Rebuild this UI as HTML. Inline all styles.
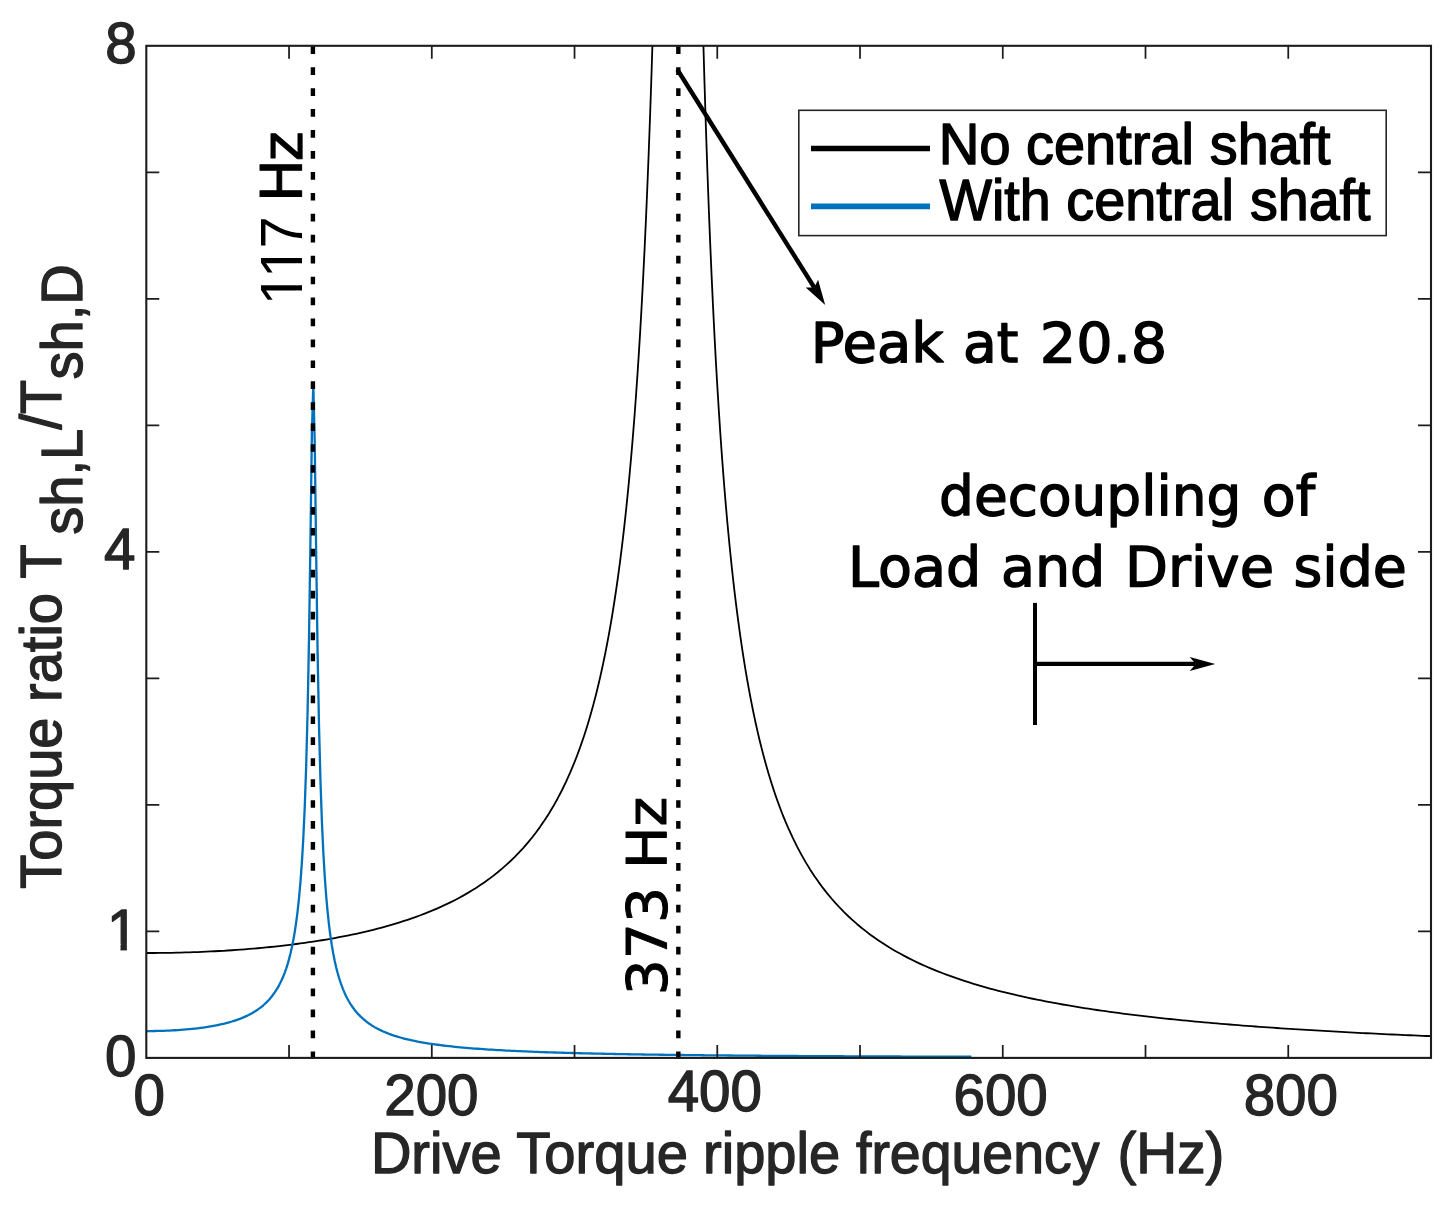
<!DOCTYPE html>
<html lang="en"><head><meta charset="utf-8"><title>Torque ratio vs drive torque ripple frequency</title>
<style>html,body{margin:0;padding:0;background:#fff;}body{width:1453px;height:1210px;overflow:hidden;}svg{display:block;}
.ax{font-family:"Liberation Sans",sans-serif;fill:#262626;stroke:#262626;stroke-width:1.3px;stroke-linejoin:round;}
.lg{font-family:"Liberation Sans",sans-serif;fill:#000;stroke:#000;stroke-width:1.4px;stroke-linejoin:round;}
.an{font-family:"DejaVu Sans","Liberation Sans",sans-serif;fill:#000;stroke:#000;stroke-width:1.4px;stroke-linejoin:round;}
.anl{font-family:"Liberation Sans",sans-serif;fill:#000;}
</style></head><body>
<svg width="1453" height="1210" viewBox="0 0 1453 1210">
<rect x="0" y="0" width="1453" height="1210" fill="#ffffff"/>
<defs><clipPath id="plotclip"><rect x="146.30" y="45.80" width="1284.70" height="1012.10"/></clipPath><clipPath id="c1_56_5_1_3"><path d="M-10 -73.45H56.50V-5.77H19.85V0.95H13.56V-5.77H-10Z"/></clipPath><clipPath id="c117"><path clip-rule="evenodd" d="M-30 -90H220V40H-30ZM-1.64 -5.37H9.44V0.60H-1.64ZM14.72 -5.37H25.34V0.60H14.72ZM25.66 -5.37H36.74V0.60H25.66ZM42.02 -5.37H52.64V0.60H42.02Z"/></clipPath></defs>
<g clip-path="url(#plotclip)" fill="none" stroke-linejoin="round">
<path d="M146.30 953.02 L150.58 953.01 L154.86 952.99 L159.15 952.96 L163.43 952.91 L167.71 952.85 L171.99 952.78 L176.28 952.69 L180.56 952.59 L184.84 952.47 L189.12 952.34 L193.41 952.19 L197.69 952.04 L201.97 951.86 L206.25 951.68 L210.54 951.47 L214.82 951.26 L219.10 951.02 L223.38 950.78 L227.66 950.52 L231.95 950.24 L236.23 949.94 L240.51 949.63 L244.79 949.31 L249.08 948.97 L253.36 948.61 L257.64 948.23 L261.92 947.84 L266.21 947.42 L270.49 946.99 L274.77 946.54 L279.05 946.08 L283.33 945.59 L287.62 945.08 L291.90 944.55 L296.18 944.00 L300.46 943.43 L304.75 942.84 L309.03 942.23 L313.31 941.59 L317.59 940.92 L321.88 940.24 L326.16 939.53 L330.44 938.79 L334.72 938.02 L339.00 937.23 L343.29 936.41 L347.57 935.55 L351.85 934.67 L356.13 933.76 L360.42 932.81 L364.70 931.83 L368.98 930.81 L373.26 929.76 L377.55 928.67 L381.83 927.54 L386.11 926.36 L390.39 925.15 L394.68 923.89 L398.96 922.58 L403.24 921.23 L407.52 919.82 L411.80 918.36 L416.09 916.84 L420.37 915.27 L424.65 913.64 L428.93 911.94 L433.22 910.17 L437.50 908.33 L441.78 906.42 L446.06 904.43 L450.35 902.36 L454.63 900.20 L458.91 897.95 L463.19 895.60 L467.48 893.15 L471.76 890.59 L476.04 887.91 L480.32 885.10 L484.60 882.17 L488.89 879.10 L493.17 875.87 L497.45 872.49 L501.73 868.93 L506.02 865.19 L510.30 861.25 L514.58 857.10 L518.86 852.71 L523.15 848.08 L527.43 843.18 L531.71 837.98 L535.99 832.47 L540.27 826.60 L544.56 820.36 L548.84 813.70 L553.12 806.57 L557.40 798.94 L561.69 790.75 L565.97 781.93 L570.25 772.41 L574.53 762.11 L575.96 758.48 L577.39 754.76 L578.82 750.93 L580.24 746.98 L581.67 742.92 L583.10 738.75 L584.53 734.44 L585.95 730.01 L587.38 725.43 L588.81 720.72 L590.24 715.85 L591.66 710.82 L593.09 705.63 L594.52 700.27 L595.95 694.72 L597.37 688.99 L598.80 683.05 L600.23 676.90 L601.65 670.52 L603.08 663.91 L604.51 657.05 L605.94 649.93 L607.36 642.53 L608.79 634.84 L610.22 626.84 L611.65 618.51 L613.07 609.82 L614.50 600.76 L615.93 591.31 L617.36 581.43 L618.78 571.10 L620.21 560.29 L621.64 548.96 L623.07 537.08 L624.49 524.60 L625.92 511.49 L627.35 497.68 L628.78 483.14 L630.20 467.79 L631.63 451.58 L633.06 434.42 L634.49 416.25 L635.91 396.96 L637.34 376.45 L638.77 354.62 L640.20 331.33 L641.62 306.44 L643.05 279.80 L644.48 251.20 L645.91 220.46 L647.33 187.33 L648.76 151.55 L650.19 112.81 L651.62 70.76 L653.04 25.01 L654.47 -24.89 L655.90 -79.46 L657.33 -139.26 L658.75 -204.94 L660.18 -277.20 L661.61 -356.78 L663.03 -444.45 L664.46 -540.89 L665.89 -646.60 L667.32 -761.71 L668.74 -885.57 L670.17 -1016.35 L671.60 -1150.36 L673.03 -1281.42 L674.45 -1400.47 L675.88 -1496.16 L677.31 -1556.74 L678.74 -1573.28 L680.16 -1542.88 L681.59 -1469.84 L683.02 -1363.97 L684.45 -1237.30 L685.87 -1100.94 L687.30 -963.46 L688.73 -830.56 L690.16 -705.48 L691.58 -589.76 L693.01 -483.81 L694.44 -387.36 L695.87 -299.82 L697.29 -220.43 L698.72 -148.41 L700.15 -82.98 L701.58 -23.43 L703.00 30.90 L704.43 80.58 L705.86 126.12 L707.29 167.97 L708.71 206.53 L710.14 242.15 L711.57 275.13 L713.00 305.74 L714.42 334.21 L715.85 360.74 L717.28 385.53 L718.71 408.72 L720.13 430.47 L721.56 450.89 L722.99 470.11 L724.41 488.22 L725.84 505.31 L727.27 521.47 L728.70 536.77 L730.12 551.27 L731.55 565.03 L732.98 578.10 L734.41 590.54 L735.83 602.39 L737.26 613.69 L738.69 624.48 L740.12 634.78 L741.54 644.64 L742.97 654.07 L744.40 663.11 L745.83 671.78 L747.25 680.10 L748.68 688.09 L750.11 695.77 L751.54 703.16 L752.96 710.27 L754.39 717.12 L755.82 723.72 L757.25 730.09 L758.67 736.23 L760.10 742.17 L761.53 747.90 L762.96 753.45 L764.38 758.81 L765.81 764.00 L767.24 769.02 L768.67 773.89 L770.09 778.61 L771.52 783.18 L772.95 787.62 L774.38 791.93 L775.80 796.11 L777.23 800.18 L778.66 804.12 L780.09 807.96 L781.51 811.70 L782.94 815.33 L784.37 818.86 L785.80 822.30 L787.22 825.65 L788.65 828.91 L792.93 838.22 L797.21 846.86 L801.50 854.89 L805.78 862.38 L810.06 869.39 L814.34 875.95 L818.63 882.11 L822.91 887.91 L827.19 893.36 L831.47 898.51 L835.76 903.38 L840.04 907.99 L844.32 912.36 L848.60 916.50 L852.88 920.44 L857.17 924.19 L861.45 927.76 L865.73 931.16 L870.01 934.41 L874.30 937.51 L878.58 940.48 L882.86 943.33 L887.14 946.05 L891.43 948.66 L895.71 951.17 L899.99 953.58 L904.27 955.90 L908.56 958.12 L912.84 960.27 L917.12 962.33 L921.40 964.32 L925.68 966.24 L929.97 968.09 L934.25 969.88 L938.53 971.61 L942.81 973.28 L947.10 974.89 L951.38 976.46 L955.66 977.97 L959.94 979.43 L964.23 980.85 L968.51 982.23 L972.79 983.57 L977.07 984.86 L981.36 986.12 L985.64 987.34 L989.92 988.53 L994.20 989.68 L998.48 990.80 L1002.77 991.89 L1007.05 992.95 L1011.33 993.98 L1015.61 994.99 L1019.90 995.96 L1024.18 996.92 L1028.46 997.84 L1032.74 998.75 L1037.03 999.63 L1041.31 1000.49 L1045.59 1001.33 L1049.87 1002.15 L1054.15 1002.95 L1058.44 1003.73 L1062.72 1004.49 L1067.00 1005.23 L1071.28 1005.96 L1075.57 1006.67 L1079.85 1007.37 L1084.13 1008.05 L1088.41 1008.71 L1092.70 1009.36 L1096.98 1009.99 L1101.26 1010.62 L1105.54 1011.22 L1109.83 1011.82 L1114.11 1012.40 L1118.39 1012.97 L1122.67 1013.53 L1126.95 1014.08 L1131.24 1014.62 L1135.52 1015.14 L1139.80 1015.66 L1144.08 1016.16 L1148.37 1016.66 L1152.65 1017.15 L1156.93 1017.62 L1161.21 1018.09 L1165.50 1018.55 L1169.78 1019.00 L1174.06 1019.44 L1178.34 1019.88 L1182.62 1020.30 L1186.91 1020.72 L1191.19 1021.13 L1195.47 1021.53 L1199.75 1021.93 L1204.04 1022.32 L1208.32 1022.70 L1212.60 1023.08 L1216.88 1023.45 L1221.17 1023.81 L1225.45 1024.17 L1229.73 1024.52 L1234.01 1024.86 L1238.30 1025.20 L1242.58 1025.53 L1246.86 1025.86 L1251.14 1026.19 L1255.42 1026.50 L1259.71 1026.82 L1263.99 1027.12 L1268.27 1027.43 L1272.55 1027.72 L1276.84 1028.02 L1281.12 1028.30 L1285.40 1028.59 L1289.68 1028.87 L1293.97 1029.14 L1298.25 1029.42 L1302.53 1029.68 L1306.81 1029.95 L1311.09 1030.20 L1315.38 1030.46 L1319.66 1030.71 L1323.94 1030.96 L1328.22 1031.20 L1332.51 1031.45 L1336.79 1031.68 L1341.07 1031.92 L1345.35 1032.15 L1349.64 1032.37 L1353.92 1032.60 L1358.20 1032.82 L1362.48 1033.04 L1366.77 1033.25 L1371.05 1033.47 L1375.33 1033.67 L1379.61 1033.88 L1383.89 1034.08 L1388.18 1034.29 L1392.46 1034.48 L1396.74 1034.68 L1401.02 1034.87 L1405.31 1035.06 L1409.59 1035.25 L1413.87 1035.44 L1418.15 1035.62 L1422.44 1035.80 L1426.72 1035.98 L1431.00 1036.15" stroke="#000" stroke-width="1.8"/>
<path d="M146.30 1031.08 L149.15 1031.07 L152.01 1031.05 L154.86 1031.01 L157.72 1030.95 L160.57 1030.88 L163.43 1030.79 L166.28 1030.69 L169.14 1030.57 L171.99 1030.43 L174.85 1030.27 L177.70 1030.10 L180.56 1029.90 L183.41 1029.69 L186.27 1029.45 L189.12 1029.19 L191.98 1028.91 L194.83 1028.61 L197.69 1028.28 L200.54 1027.92 L203.40 1027.53 L206.25 1027.12 L209.11 1026.67 L211.96 1026.18 L214.82 1025.66 L217.67 1025.09 L220.53 1024.49 L223.38 1023.83 L226.24 1023.12 L229.09 1022.35 L231.95 1021.52 L234.80 1020.62 L237.66 1019.65 L240.51 1018.58 L243.37 1017.42 L246.22 1016.16 L249.08 1014.77 L251.93 1013.24 L254.79 1011.55 L257.64 1009.68 L260.50 1007.60 L263.35 1005.27 L266.21 1002.64 L269.06 999.68 L271.92 996.29 L274.77 992.39 L276.20 990.22 L277.62 987.87 L279.05 985.32 L280.48 982.55 L281.91 979.53 L283.33 976.23 L284.76 972.59 L286.19 968.58 L287.62 964.13 L289.04 959.16 L290.47 953.58 L291.90 947.29 L293.33 940.12 L294.75 931.89 L296.18 922.35 L297.61 911.17 L299.04 897.91 L300.46 881.94 L301.89 862.39 L303.32 837.99 L304.75 806.84 L306.17 766.09 L307.60 711.49 L309.03 637.32 L310.46 539.74 L311.88 433.79 L313.31 384.01 L314.74 443.55 L316.17 553.51 L317.59 651.90 L319.02 726.01 L320.45 780.42 L321.88 820.99 L323.30 851.99 L324.73 876.29 L326.16 895.76 L327.59 911.66 L329.01 924.88 L330.44 936.03 L331.87 945.54 L333.30 953.75 L334.72 960.91 L336.15 967.19 L337.58 972.76 L339.00 977.73 L340.43 982.18 L341.86 986.19 L343.29 989.83 L344.71 993.14 L346.14 996.16 L347.57 998.94 L349.00 1001.49 L350.42 1003.85 L351.85 1006.03 L353.28 1008.06 L354.71 1009.95 L356.13 1011.72 L357.56 1013.36 L358.99 1014.91 L360.42 1016.36 L363.27 1019.01 L366.13 1021.38 L368.98 1023.50 L371.84 1025.41 L374.69 1027.14 L377.55 1028.71 L380.40 1030.15 L383.26 1031.46 L386.11 1032.68 L388.97 1033.80 L391.82 1034.83 L394.68 1035.79 L397.53 1036.69 L400.39 1037.52 L403.24 1038.30 L406.09 1039.03 L408.95 1039.71 L411.80 1040.35 L414.66 1040.96 L417.51 1041.53 L420.37 1042.07 L423.22 1042.58 L426.08 1043.06 L428.93 1043.52 L431.79 1043.95 L434.64 1044.37 L437.50 1044.76 L440.35 1045.14 L443.21 1045.49 L446.06 1045.83 L448.92 1046.16 L451.77 1046.47 L454.63 1046.77 L457.48 1047.05 L460.34 1047.33 L463.19 1047.59 L466.05 1047.84 L468.90 1048.08 L471.76 1048.32 L474.61 1048.54 L477.47 1048.76 L480.32 1048.96 L483.18 1049.16 L486.03 1049.36 L488.89 1049.54 L491.74 1049.72 L494.60 1049.89 L497.45 1050.06 L500.31 1050.22 L503.16 1050.38 L506.02 1050.53 L508.87 1050.68 L511.73 1050.82 L514.58 1050.96 L517.44 1051.09 L520.29 1051.22 L523.15 1051.35 L526.00 1051.47 L528.86 1051.59 L531.71 1051.70 L534.56 1051.81 L537.42 1051.92 L540.27 1052.03 L543.13 1052.13 L545.98 1052.23 L548.84 1052.32 L551.69 1052.42 L554.55 1052.51 L557.40 1052.60 L560.26 1052.69 L563.11 1052.77 L565.97 1052.85 L568.82 1052.93 L571.68 1053.01 L574.53 1053.09 L577.39 1053.16 L580.24 1053.24 L583.10 1053.31 L585.95 1053.38 L588.81 1053.45 L591.66 1053.51 L594.52 1053.58 L597.37 1053.64 L600.23 1053.70 L603.08 1053.76 L605.94 1053.82 L608.79 1053.88 L611.65 1053.94 L614.50 1053.99 L617.36 1054.04 L620.21 1054.10 L623.07 1054.15 L625.92 1054.20 L628.78 1054.25 L631.63 1054.30 L634.49 1054.35 L637.34 1054.39 L640.20 1054.44 L643.05 1054.48 L645.91 1054.53 L648.76 1054.57 L651.62 1054.61 L654.47 1054.65 L657.33 1054.69 L660.18 1054.73 L663.03 1054.77 L665.89 1054.81 L668.74 1054.85 L671.60 1054.88 L674.45 1054.92 L677.31 1054.96 L680.16 1054.99 L683.02 1055.02 L685.87 1055.06 L688.73 1055.09 L691.58 1055.12 L694.44 1055.16 L697.29 1055.19 L700.15 1055.22 L703.00 1055.25 L705.86 1055.28 L708.71 1055.31 L711.57 1055.34 L714.42 1055.36 L717.28 1055.39 L720.13 1055.42 L722.99 1055.44 L725.84 1055.47 L728.70 1055.50 L731.55 1055.52 L734.41 1055.55 L737.26 1055.57 L740.12 1055.60 L742.97 1055.62 L745.83 1055.64 L748.68 1055.67 L751.54 1055.69 L754.39 1055.71 L757.25 1055.73 L760.10 1055.76 L762.96 1055.78 L765.81 1055.80 L768.67 1055.82 L771.52 1055.84 L774.38 1055.86 L777.23 1055.88 L780.09 1055.90 L782.94 1055.92 L785.80 1055.94 L788.65 1055.96 L791.50 1055.97 L794.36 1055.99 L797.21 1056.01 L800.07 1056.03 L802.92 1056.04 L805.78 1056.06 L808.63 1056.08 L811.49 1056.10 L814.34 1056.11 L817.20 1056.13 L820.05 1056.14 L822.91 1056.16 L825.76 1056.18 L828.62 1056.19 L831.47 1056.21 L834.33 1056.22 L837.18 1056.24 L840.04 1056.25 L842.89 1056.26 L845.75 1056.28 L848.60 1056.29 L851.46 1056.31 L854.31 1056.32 L857.17 1056.33 L860.02 1056.35 L862.88 1056.36 L865.73 1056.37 L868.59 1056.39 L871.44 1056.40 L874.30 1056.41 L877.15 1056.42 L880.01 1056.43 L882.86 1056.45 L885.72 1056.46 L888.57 1056.47 L891.43 1056.48 L894.28 1056.49 L897.14 1056.50 L899.99 1056.52 L902.85 1056.53 L905.70 1056.54 L908.56 1056.55 L911.41 1056.56 L914.27 1056.57 L917.12 1056.58 L919.97 1056.59 L922.83 1056.60 L925.68 1056.61 L928.54 1056.62 L931.39 1056.63 L934.25 1056.64 L937.10 1056.65 L939.96 1056.66 L942.81 1056.67 L945.67 1056.68 L948.52 1056.68 L951.38 1056.69 L954.23 1056.70 L957.09 1056.71 L959.94 1056.72 L962.80 1056.73 L965.65 1056.74 L968.51 1056.75 L971.36 1056.75" stroke="#0072BD" stroke-width="2.3"/>
</g>
<line x1="312.91" y1="46.30" x2="312.91" y2="1060.00" stroke="#000" stroke-width="4.4" stroke-dasharray="7.7 13.24"/>
<line x1="678.34" y1="46.30" x2="678.34" y2="1060.00" stroke="#000" stroke-width="4.4" stroke-dasharray="7.7 13.24"/>
<g stroke="#1c1c1c" fill="none">
<rect x="146.30" y="45.80" width="1284.70" height="1012.10" stroke-width="2.1"/>
<path d="M289.04 1057.90V1044.90M289.04 45.80V58.80M431.79 1057.90V1044.90M431.79 45.80V58.80M574.53 1057.90V1044.90M574.53 45.80V58.80M717.28 1057.90V1044.90M717.28 45.80V58.80M860.02 1057.90V1044.90M860.02 45.80V58.80M1002.77 1057.90V1044.90M1002.77 45.80V58.80M1145.51 1057.90V1044.90M1145.51 45.80V58.80M1288.26 1057.90V1044.90M1288.26 45.80V58.80M146.30 931.39H159.30M1431.00 931.39H1418.00M146.30 804.88H159.30M1431.00 804.88H1418.00M146.30 678.36H159.30M1431.00 678.36H1418.00M146.30 551.85H159.30M1431.00 551.85H1418.00M146.30 425.34H159.30M1431.00 425.34H1418.00M146.30 298.83H159.30M1431.00 298.83H1418.00M146.30 172.31H159.30M1431.00 172.31H1418.00" stroke-width="1.75"/>
</g>
<text class="ax" font-size="56.50" transform="translate(149.30 1115.00) scale(1 1.0120)" text-anchor="middle">0</text>
<text class="ax" font-size="56.50" transform="translate(431.35 1115.00) scale(1 1.0120)" text-anchor="middle">200</text>
<text class="ax" font-size="56.50" transform="translate(714.80 1111.40) scale(1 1.0120)" text-anchor="middle">400</text>
<text class="ax" font-size="56.50" transform="translate(1000.65 1114.60) scale(1 1.0120)" text-anchor="middle">600</text>
<text class="ax" font-size="56.50" transform="translate(1290.80 1115.00) scale(1 1.0120)" text-anchor="middle">800</text>
<text class="ax" font-size="56.50" transform="translate(136.70 63.40) scale(1 1.0120)" text-anchor="end">8</text>
<text class="ax" font-size="56.50" transform="translate(135.40 569.45) scale(1 1.0120)" text-anchor="end">4</text>
<text class="ax" font-size="56.50" transform="translate(136.40 1075.50) scale(1 1.0120)" text-anchor="end">0</text>
<text class="ax" font-size="56.50" transform="translate(107.0 949.69) scale(1 1.012)" clip-path="url(#c1_56_5_1_3)">1</text>
<text class="ax" font-size="56.00" transform="translate(60.90 888.70) rotate(-90) scale(1 1.0400)">Torque ratio T<tspan dy="20.6" dx="9.6">sh,L</tspan><tspan dy="-20.6" dx="-0.7">/T</tspan><tspan dy="20.6" dx="0.3">sh,D</tspan></text>
<rect x="798.8" y="110.3" width="587.4" height="125.3" fill="#fff" stroke="#262626" stroke-width="1.6"/>
<line x1="811" y1="148.5" x2="930" y2="148.5" stroke="#000" stroke-width="5.6"/>
<line x1="811" y1="206.4" x2="930" y2="206.4" stroke="#0072BD" stroke-width="5.6"/>
<text class="an" font-size="56" y="362.30" xml:space="preserve"><tspan x="810.80" textLength="132.98" lengthAdjust="spacingAndGlyphs">Peak</tspan> <tspan x="962.95" textLength="55.43" lengthAdjust="spacingAndGlyphs">at</tspan> <tspan x="1039.83" textLength="127.43" lengthAdjust="spacingAndGlyphs">20.8</tspan></text>
<text class="an" font-size="56" y="515.00" xml:space="preserve"><tspan x="939.04" textLength="302.33" lengthAdjust="spacingAndGlyphs">decoupling</tspan> <tspan x="1261.83" textLength="53.28" lengthAdjust="spacingAndGlyphs">of</tspan></text>
<text class="an" font-size="56" y="586.10" xml:space="preserve"><tspan x="848.04" textLength="133.16" lengthAdjust="spacingAndGlyphs">Load</tspan> <tspan x="1000.93" textLength="104.39" lengthAdjust="spacingAndGlyphs">and</tspan> <tspan x="1125.11" textLength="148.88" lengthAdjust="spacingAndGlyphs">Drive</tspan> <tspan x="1293.52" textLength="113.38" lengthAdjust="spacingAndGlyphs">side</tspan></text>
<text class="ax" font-size="56" transform="translate(0 1173.10) scale(1 1.0080)" xml:space="preserve"><tspan x="370.90" textLength="130.79" lengthAdjust="spacingAndGlyphs">Drive</tspan> <tspan x="516.30" textLength="171.74" lengthAdjust="spacingAndGlyphs">Torque</tspan> <tspan x="703.10" textLength="137.07" lengthAdjust="spacingAndGlyphs">ripple</tspan> <tspan x="856.00" textLength="243.44" lengthAdjust="spacingAndGlyphs">frequency</tspan> <tspan x="1117.47" textLength="106.91" lengthAdjust="spacingAndGlyphs">(Hz)</tspan></text>
<text class="lg" font-size="56" transform="translate(0 163.70) scale(1 1.0350)" xml:space="preserve"><tspan x="938.68" textLength="72.03" lengthAdjust="spacingAndGlyphs">No</tspan> <tspan x="1026.00" textLength="167.89" lengthAdjust="spacingAndGlyphs">central</tspan> <tspan x="1209.80" textLength="120.80" lengthAdjust="spacingAndGlyphs">shaft</tspan></text>
<text class="lg" font-size="56" transform="translate(0 219.60) scale(1 1.0350)" xml:space="preserve"><tspan x="939.40" textLength="111.28" lengthAdjust="spacingAndGlyphs">With</tspan> <tspan x="1066.31" textLength="167.58" lengthAdjust="spacingAndGlyphs">central</tspan> <tspan x="1250.01" textLength="120.50" lengthAdjust="spacingAndGlyphs">shaft</tspan></text>
<g transform="translate(302.2 300) rotate(-90)">
<text class="anl" font-size="59.8" clip-path="url(#c117)" xml:space="preserve"><tspan x="-5.6">1</tspan><tspan x="21.7">1</tspan><tspan x="51.6" textLength="32.09" lengthAdjust="spacingAndGlyphs">7</tspan> <tspan class="an" x="98" style="font-size:57px;stroke-width:1px">H</tspan><tspan class="an" dx="-2" style="font-size:57px;stroke-width:1px">z</tspan></text>
</g>
<text class="an" font-size="56.00" transform="translate(665.50 995.20) rotate(-90) scale(1 0.9900)" textLength="198.50" lengthAdjust="spacingAndGlyphs" style="stroke-width:1px">373 Hz</text>
<line x1="677.30" y1="69.50" x2="814.29" y2="287.54" stroke="#000" stroke-width="4.40"/><path d="M825.20 304.90L805.72 287.62L814.29 287.54L818.08 279.85Z" fill="#000"/>
<line x1="1035.0" y1="602.9" x2="1035.0" y2="725" stroke="#000" stroke-width="4"/>
<line x1="1035.20" y1="663.90" x2="1195.70" y2="663.90" stroke="#000" stroke-width="4.10"/><path d="M1215.20 663.90L1189.70 670.90L1195.70 663.90L1189.70 656.90Z" fill="#000"/>
</svg></body></html>
